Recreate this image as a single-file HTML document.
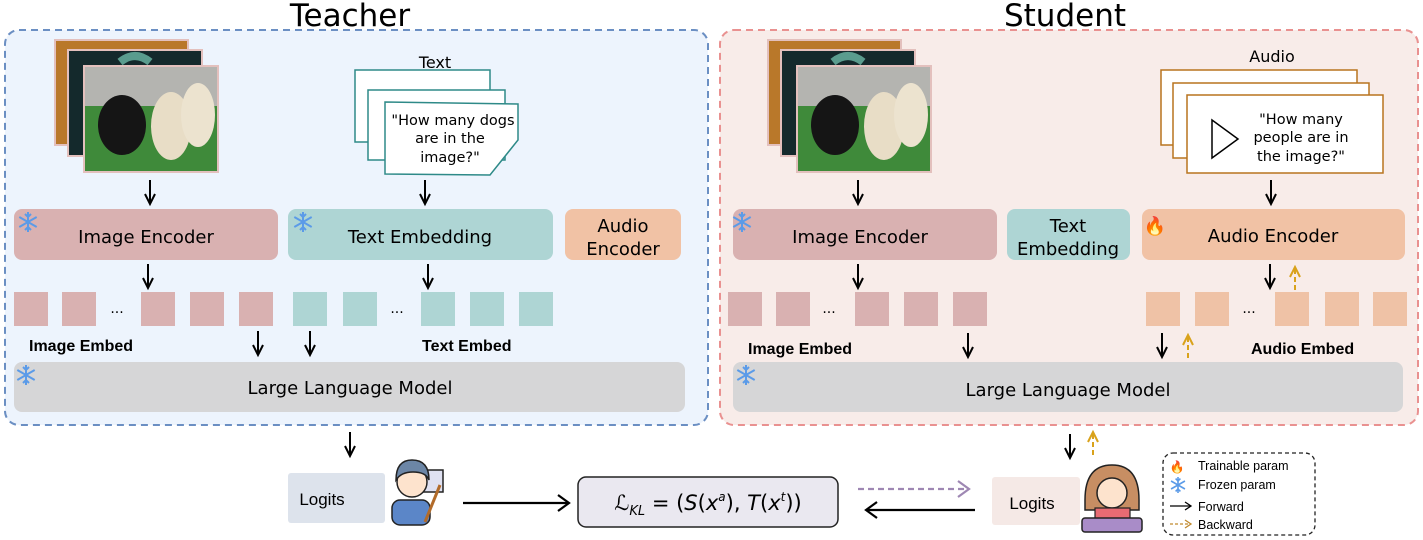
<!DOCTYPE html>
<html><head><meta charset="utf-8"><style>
html,body{margin:0;padding:0;background:#fff}
svg{display:block}
text{font-family:"DejaVu Sans","Liberation Sans",sans-serif}
.b{font-family:"Liberation Sans",sans-serif;font-weight:bold}
.h{font-family:"Liberation Sans",sans-serif}
</style></head><body>
<svg width="1423" height="540" viewBox="0 0 1423 540" xmlns="http://www.w3.org/2000/svg">
<defs>
<g id="dn"><line x1="0" y1="0" x2="0" y2="24" stroke="#000" stroke-width="2"/><polyline points="-5,14 0,24 5,14" fill="none" stroke="#000" stroke-width="2"/></g>
<g id="up"><line x1="0" y1="0" x2="0" y2="-22" stroke="#d9a21b" stroke-width="2" stroke-dasharray="5,3"/><polyline points="-5,-13 0,-23 5,-13" fill="none" stroke="#d9a21b" stroke-width="2"/></g>
<g id="snow" stroke="#5b9be8" stroke-width="2" fill="none"><line x1="0" y1="-10" x2="0" y2="10"/><line x1="-8.7" y1="-5" x2="8.7" y2="5"/><line x1="-8.7" y1="5" x2="8.7" y2="-5"/><polyline points="-3,-8 0,-5 3,-8"/><polyline points="-3,8 0,5 3,8"/></g>
<g id="imgs">
<rect x="55" y="40" width="133" height="105" fill="#b9782a" stroke="#e3c0bd" stroke-width="2"/>
<rect x="68" y="50" width="134" height="106" fill="#14292c" stroke="#e3c0bd" stroke-width="2"/>
<path d="M120 62 q15 -12 30 0" stroke="#5a9c8e" stroke-width="8" fill="none"/>
<rect x="84" y="66" width="134" height="106" fill="#9aa0a0" stroke="#e3c0bd" stroke-width="2"/>
<rect x="85" y="67" width="132" height="40" fill="#b4b4b0"/>
<rect x="85" y="106" width="132" height="65" fill="#3f8a3a"/>
<ellipse cx="122" cy="125" rx="24" ry="30" fill="#151515"/>
<ellipse cx="171" cy="126" rx="20" ry="34" fill="#e8ddc6"/>
<ellipse cx="198" cy="115" rx="17" ry="32" fill="#ece3cf"/>
</g>
</defs>

<text x="350" y="26" font-size="31" text-anchor="middle">Teacher</text>
<text x="1065" y="26" font-size="31" text-anchor="middle">Student</text>

<rect x="5" y="30" width="703" height="395" rx="14" fill="#edf4fd" stroke="#6b8fc3" stroke-width="2" stroke-dasharray="7,5"/>
<rect x="720" y="30" width="698" height="395" rx="14" fill="#f8ece9" stroke="#e99190" stroke-width="2" stroke-dasharray="7,5"/>

<use href="#imgs"/>
<text x="435" y="68" font-size="16" text-anchor="middle">Text</text>
<rect x="355" y="70" width="135" height="72" fill="#fff" stroke="#2e8a88" stroke-width="1.5"/>
<rect x="368" y="90" width="137" height="70" fill="#fff" stroke="#2e8a88" stroke-width="1.5"/>
<path d="M385 102 L518 104 L518 140 L490 175 L385 174 Z" fill="#fff" stroke="#2e8a88" stroke-width="1.5"/>
<text x="453" y="125" font-size="14.5" text-anchor="middle">"How many dogs</text>
<text x="450" y="143" font-size="14.5" text-anchor="middle">are in the</text>
<text x="450" y="162" font-size="14.5" text-anchor="middle">image?"</text>

<use href="#dn" x="150" y="180"/>
<use href="#dn" x="425" y="180"/>

<rect x="14" y="209" width="264" height="51" rx="8" fill="#d9b1b1"/>
<use href="#snow" x="28" y="222"/>
<text x="146" y="243" font-size="18" text-anchor="middle">Image Encoder</text>
<rect x="288" y="209" width="265" height="51" rx="8" fill="#aed5d4"/>
<use href="#snow" x="303" y="222"/>
<text x="420" y="243" font-size="18" text-anchor="middle">Text Embedding</text>
<rect x="565" y="209" width="116" height="51" rx="8" fill="#f1c2a5"/>
<text x="623" y="232" font-size="18" text-anchor="middle">Audio</text>
<text x="623" y="255" font-size="18" text-anchor="middle">Encoder</text>

<use href="#dn" x="148" y="264"/>
<use href="#dn" x="428" y="264"/>

<g fill="#d9b1b1"><rect x="14" y="292" width="34" height="34"/><rect x="62" y="292" width="34" height="34"/><rect x="141" y="292" width="34" height="34"/><rect x="190" y="292" width="34" height="34"/><rect x="239" y="292" width="34" height="34"/></g>
<g fill="#aed5d4"><rect x="293" y="292" width="34" height="34"/><rect x="343" y="292" width="34" height="34"/><rect x="421" y="292" width="34" height="34"/><rect x="470" y="292" width="34" height="34"/><rect x="519" y="292" width="34" height="34"/></g>
<text x="117" y="313" font-size="14" text-anchor="middle">...</text>
<text x="397" y="313" font-size="14" text-anchor="middle">...</text>
<text x="29" y="351" font-size="16" class="b">Image Embed</text>
<text x="422" y="351" font-size="16" class="b">Text Embed</text>
<use href="#dn" x="258" y="331"/>
<use href="#dn" x="310" y="331"/>

<rect x="14" y="362" width="671" height="50" rx="8" fill="#d6d6d7"/>
<use href="#snow" x="26" y="375"/>
<text x="350" y="394" font-size="18" text-anchor="middle">Large Language Model</text>

<g transform="translate(713,0)"><use href="#imgs"/></g>
<text x="1272" y="62" font-size="16" text-anchor="middle">Audio</text>
<rect x="1161" y="70" width="196" height="75" fill="#fff" stroke="#b8741f" stroke-width="1.5"/>
<rect x="1173" y="83" width="196" height="75" fill="#fff" stroke="#b8741f" stroke-width="1.5"/>
<rect x="1187" y="95" width="196" height="78" fill="#fff" stroke="#b8741f" stroke-width="1.5"/>
<polygon points="1212,120 1238,139 1212,158" fill="none" stroke="#000" stroke-width="1.5"/>
<text x="1301" y="124" font-size="14.5" text-anchor="middle">"How many</text>
<text x="1301" y="142" font-size="14.5" text-anchor="middle">people are in</text>
<text x="1301" y="161" font-size="14.5" text-anchor="middle">the image?"</text>

<use href="#dn" x="858" y="180"/>
<use href="#dn" x="1271" y="180"/>

<rect x="733" y="209" width="264" height="51" rx="8" fill="#d9b1b1"/>
<use href="#snow" x="742" y="222"/>
<text x="860" y="243" font-size="18" text-anchor="middle">Image Encoder</text>
<rect x="1007" y="209" width="123" height="51" rx="8" fill="#aed5d4"/>
<text x="1068" y="232" font-size="18" text-anchor="middle">Text</text>
<text x="1068" y="255" font-size="18" text-anchor="middle">Embedding</text>
<rect x="1142" y="209" width="263" height="51" rx="8" fill="#f1c2a5"/>
<text x="1155" y="232" font-size="18" text-anchor="middle">🔥</text>
<text x="1273" y="242" font-size="18" text-anchor="middle">Audio Encoder</text>

<use href="#dn" x="858" y="264"/>
<use href="#dn" x="1270" y="264"/>
<use href="#up" x="1295" y="290"/>

<g fill="#d9b1b1"><rect x="728" y="292" width="34" height="34"/><rect x="776" y="292" width="34" height="34"/><rect x="855" y="292" width="34" height="34"/><rect x="904" y="292" width="34" height="34"/><rect x="953" y="292" width="34" height="34"/></g>
<g fill="#efc2a6"><rect x="1146" y="292" width="34" height="34"/><rect x="1195" y="292" width="34" height="34"/><rect x="1275" y="292" width="34" height="34"/><rect x="1325" y="292" width="34" height="34"/><rect x="1373" y="292" width="34" height="34"/></g>
<text x="829" y="313" font-size="14" text-anchor="middle">...</text>
<text x="1249" y="313" font-size="14" text-anchor="middle">...</text>
<text x="748" y="354" font-size="16" class="b">Image Embed</text>
<text x="1251" y="354" font-size="16" class="b">Audio Embed</text>
<use href="#dn" x="968" y="333"/>
<use href="#dn" x="1162" y="333"/>
<use href="#up" x="1188" y="358"/>

<rect x="733" y="362" width="670" height="50" rx="8" fill="#d6d6d7"/>
<use href="#snow" x="746" y="375"/>
<text x="1068" y="396" font-size="18" text-anchor="middle">Large Language Model</text>

<use href="#dn" x="350" y="432"/>
<use href="#dn" x="1070" y="434"/>
<use href="#up" x="1093" y="455"/>

<rect x="288" y="473" width="97" height="50" rx="3" fill="#dde3ec"/>
<text x="322" y="505" font-size="17" class="h" text-anchor="middle">Logits</text>
<rect x="418" y="470" width="25" height="22" fill="#dfe1f2" stroke="#222" stroke-width="1.5"/>
<rect x="392" y="500" width="38" height="25" rx="8" fill="#5b86c8" stroke="#222" stroke-width="1.5"/>
<circle cx="412" cy="482" r="15" fill="#fde3cd" stroke="#222" stroke-width="1.5"/>
<path d="M396 480 q0 -20 16 -20 q17 0 17 20 q-3 -8 -16 -8 q-12 0 -17 8z" fill="#6c86a6" stroke="#222" stroke-width="1.5"/>
<line x1="440" y1="485" x2="425" y2="522" stroke="#b26b2a" stroke-width="3"/>

<rect x="578" y="477" width="260" height="50" rx="8" fill="#eae8f0" stroke="#222" stroke-width="1.5"/>
<text x="708" y="510" font-size="21" text-anchor="middle" font-family="Liberation Serif,serif" font-style="italic">ℒ<tspan font-size="13" dy="5">KL</tspan><tspan dy="-5" font-style="normal"> = (</tspan>S<tspan font-style="normal">(</tspan>x<tspan font-size="12" dy="-9">a</tspan><tspan dy="9" font-style="normal">), </tspan>T<tspan font-style="normal">(</tspan>x<tspan font-size="12" dy="-9">t</tspan><tspan dy="9" font-style="normal">))</tspan></text>

<line x1="463" y1="503" x2="568" y2="503" stroke="#000" stroke-width="2.2"/>
<polyline points="558,495 569,503 558,511" fill="none" stroke="#000" stroke-width="2.2"/>
<line x1="858" y1="489" x2="968" y2="489" stroke="#9e87b3" stroke-width="2.2" stroke-dasharray="6,4"/>
<polyline points="958,481 969,489 958,497" fill="none" stroke="#9e87b3" stroke-width="2.2"/>
<line x1="975" y1="510" x2="867" y2="510" stroke="#000" stroke-width="2.2"/>
<polyline points="877,502 866,510 877,518" fill="none" stroke="#000" stroke-width="2.2"/>

<rect x="992" y="477" width="88" height="48" rx="3" fill="#f5e9e6"/>
<text x="1032" y="509" font-size="17" class="h" text-anchor="middle">Logits</text>
<path d="M1085 500 q0 -35 27 -35 q27 0 27 35 l0 10 l-54 0z" fill="#c78e63" stroke="#222" stroke-width="1.5"/>
<circle cx="1112" cy="493" r="15" fill="#fde3cd" stroke="#222" stroke-width="1.5"/>
<rect x="1095" y="508" width="35" height="12" fill="#e86b73" stroke="#222" stroke-width="1.2"/>
<rect x="1082" y="518" width="60" height="14" rx="3" fill="#a98cc8" stroke="#222" stroke-width="1.5"/>

<rect x="1163" y="453" width="152" height="82" rx="10" fill="#fff" stroke="#222" stroke-width="1.3" stroke-dasharray="4,3"/>
<text x="1177" y="471" font-size="12" text-anchor="middle">🔥</text>
<use href="#snow" x="1178" y="485" transform="translate(235.6,97) scale(0.8)"/>
<text x="1198" y="470" font-size="12.5" class="h">Trainable param</text>
<text x="1198" y="489" font-size="12.5" class="h">Frozen param</text>
<text x="1198" y="511" font-size="12.5" class="h">Forward</text>
<text x="1198" y="529" font-size="12.5" class="h">Backward</text>
<line x1="1170" y1="506" x2="1190" y2="506" stroke="#000" stroke-width="1.3"/>
<polyline points="1185,502 1191,506 1185,510" fill="none" stroke="#000" stroke-width="1.3"/>
<line x1="1170" y1="524" x2="1190" y2="524" stroke="#c08a2e" stroke-width="1.3" stroke-dasharray="3,2"/>
<polyline points="1185,520 1191,524 1185,528" fill="none" stroke="#c08a2e" stroke-width="1.3"/>
</svg>
</body></html>
